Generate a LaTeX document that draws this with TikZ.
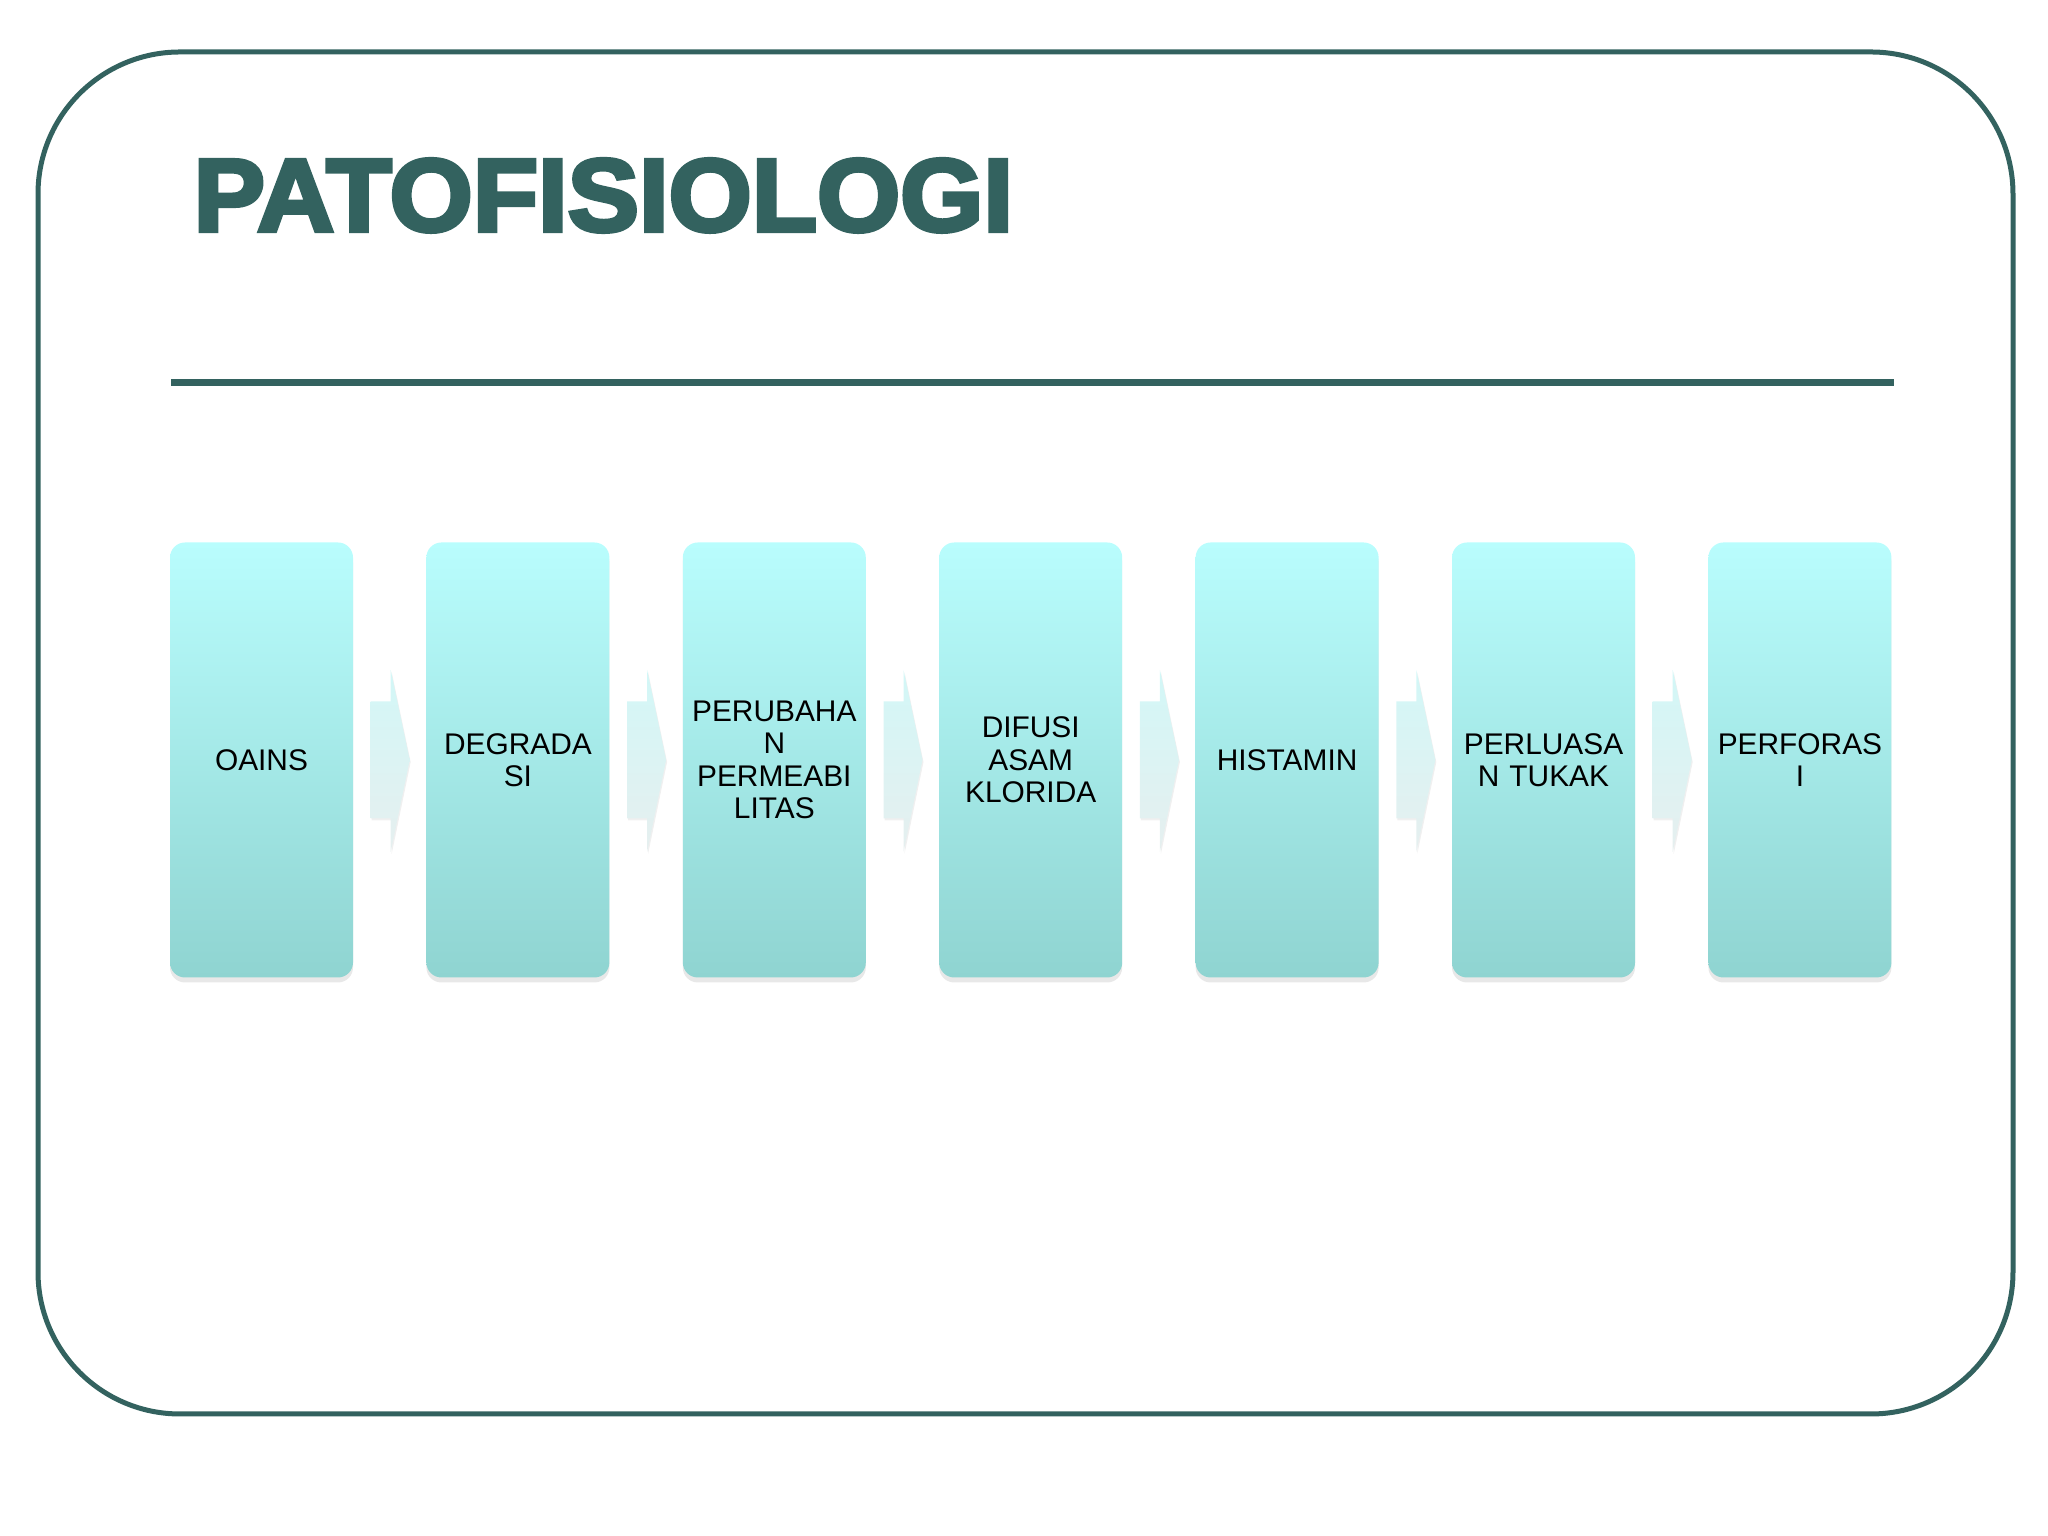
\documentclass[tikz,border=0pt]{standalone}
\usepackage{fontspec}
\setmainfont{Liberation Sans}
\newfontfamily\titlefont[FakeBold=4]{Liberation Sans Bold}
\usetikzlibrary{positioning,calc,shadows}
\definecolor{tealdark}{HTML}{33625F}
\definecolor{boxtop}{HTML}{B9FDFD}
\definecolor{boxbottom}{HTML}{8FD4D1}
\definecolor{arrowtop}{HTML}{D2F7F7}
\definecolor{arrowbottom}{HTML}{E6EFEF}
\begin{document}
\begin{tikzpicture}[node distance=0.72cm]
\tikzstyle{stepbox} = [rectangle, top color=boxtop, bottom color=boxbottom, minimum width=1.83cm, minimum height=4.35cm, text width=1.78cm, align=center, inner sep=0pt, rounded corners=0.15cm, font=\fontsize{8.5pt}{9.2pt}\selectfont, drop shadow={opacity=0.18, shadow xshift=0cm, shadow yshift=-0.05cm}]
\tikzstyle{flowarrow} = [top color=arrowtop, bottom color=arrowbottom, drop shadow={opacity=0.12, shadow xshift=0.01cm, shadow yshift=-0.02cm}]

\useasboundingbox (0,0) rectangle (20.48,15.36);
\draw [tealdark, line width=0.05cm, rounded corners=1.42cm] (0.38,1.22) rectangle (20.13,14.84);

\node (title) [anchor=base west, inner sep=0pt, text=tealdark] at (1.93,13.05) {\resizebox{8.19cm}{0.72cm}{\titlefont PATOFISIOLOGI}};
\draw [tealdark, line width=0.07cm] (1.71,11.53) -- (18.94,11.53);

\node (oains) [stepbox] at (2.615,7.76) {OAINS};
\node (degradasi) [stepbox, right=of oains] {DEGRADA\\SI};
\node (perubahan) [stepbox, right=of degradasi] {PERUBAHA\\N\\PERMEABI\\LITAS};
\node (difusi) [stepbox, right=of perubahan] {DIFUSI\\ASAM\\KLORIDA};
\node (histamin) [stepbox, right=of difusi] {HISTAMIN};
\node (perluasan) [stepbox, right=of histamin] {PERLUASA\\N TUKAK};
\node (perforasi) [stepbox, right=of perluasan] {PERFORAS\\I};

\foreach \a/\b in {oains/degradasi, degradasi/perubahan, perubahan/difusi, difusi/histamin, histamin/perluasan, perluasan/perforasi}
  \path [flowarrow] ($(\a.east)+(0.17,0.585)$) -- ($(\a.east)+(0.37,0.585)$) -- ($(\a.east)+(0.37,0.9)$) -- ($(\b.west)+(-0.16,0)$) -- ($(\a.east)+(0.37,-0.92)$) -- ($(\a.east)+(0.37,-0.585)$) -- ($(\a.east)+(0.17,-0.585)$) -- cycle;
\end{tikzpicture}
\end{document}
